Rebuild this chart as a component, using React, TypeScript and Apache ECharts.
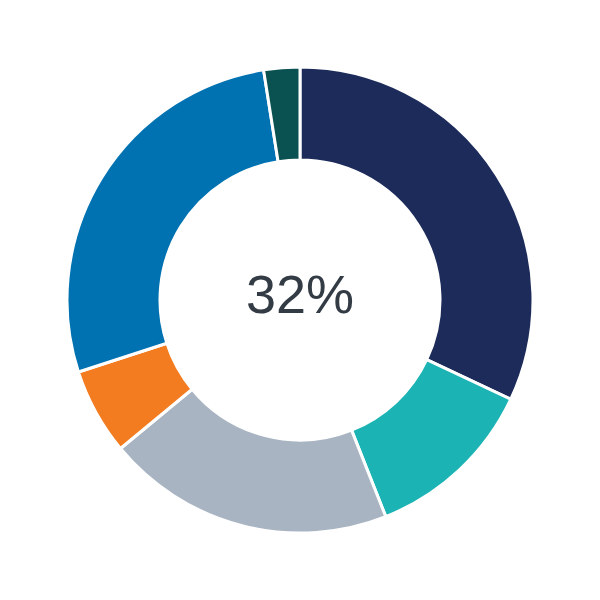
import React, { useEffect, useRef } from 'react';
import * as echarts from 'echarts';

const labels = ['A', 'B', 'C', 'D', 'E', 'F'];
const values = [32, 12, 20, 6, 27.5, 2.5];
const colors = ['#1c2b5a', '#1bb3b3', '#a9b4c3', '#f37b20', '#0072b1', '#0a5152'];
const centerText = '32%';

const App: React.FC = () => {
  const chartRef = useRef<HTMLDivElement>(null);

  useEffect(() => {
    if (!chartRef.current) return;
    const chart = echarts.init(chartRef.current, undefined, { renderer: 'svg' });

    const option: echarts.EChartsOption = {
      animation: false,
      graphic: [
        {
          type: 'text',
          x: 300,
          y: 294,
          style: {
            text: centerText,
            fontSize: 54,
            fontWeight: 'normal',
            fill: '#333b45',
            fontFamily: "'Liberation Sans', Arial, sans-serif",
            textAlign: 'center',
            textVerticalAlign: 'middle',
          },
        },
      ],
      series: [
        {
          type: 'pie',
          center: ['50%', '50%'],
          radius: [140, 233],
          startAngle: 90,
          clockwise: true,
          label: { show: false },
          labelLine: { show: false },
          itemStyle: { borderColor: '#ffffff', borderWidth: 3 },
          data: labels.map((name, i) => ({
            name,
            value: values[i],
            itemStyle: { color: colors[i] },
          })),
        },
      ],
    };

    chart.setOption(option);
    return () => {
      chart.dispose();
    };
  }, []);

  return <div ref={chartRef} style={{ width: '600px', height: '600px', margin: '-8px' }} />;
};

export default App;
